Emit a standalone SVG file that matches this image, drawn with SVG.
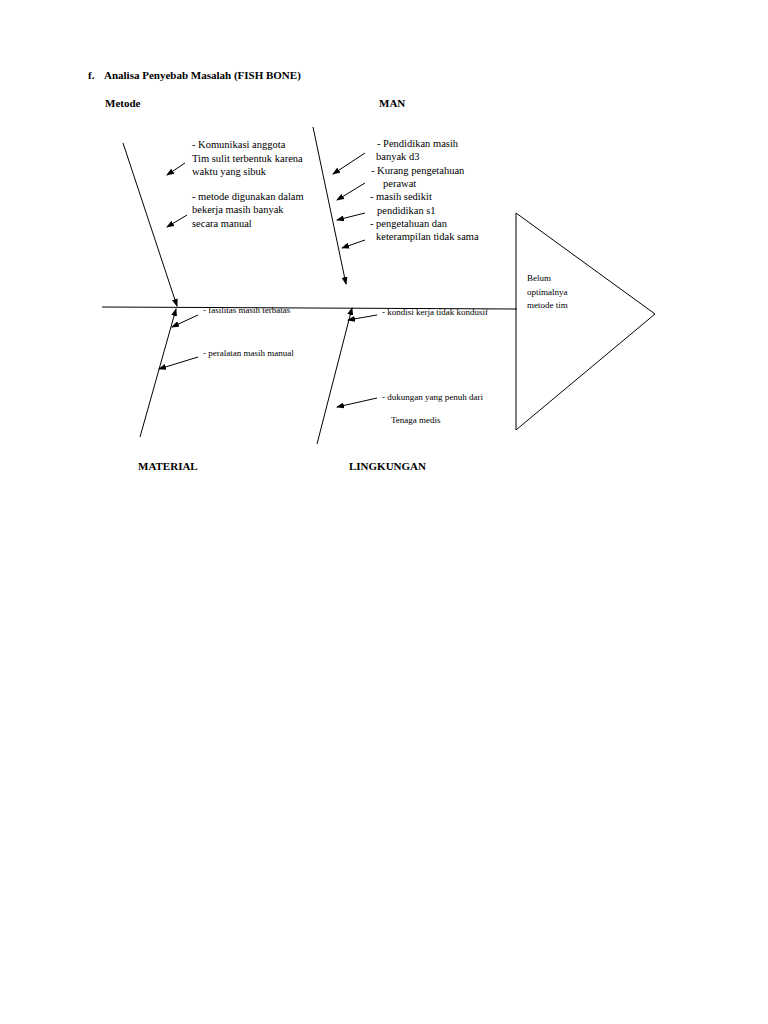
<svg xmlns="http://www.w3.org/2000/svg" width="768" height="1024" viewBox="0 0 768 1024">
<style>
text{font-family:"Liberation Serif",serif;fill:#000}
.h{font-size:11px;font-weight:bold}
.t{font-size:10.5px}
.s{font-size:9px}
line{stroke:#000;stroke-width:1}
</style>
<defs><marker id="a" markerWidth="8" markerHeight="6" refX="7" refY="3" orient="auto" markerUnits="userSpaceOnUse"><path d="M0,0L8,3L0,6z" fill="#000"/></marker></defs>
<rect width="768" height="1024" fill="#fff"/>
<text class="h" x="88" y="79">f.</text>
<text class="h" x="104" y="79">Analisa Penyebab Masalah (FISH BONE)</text>
<g id="labels">
<text class="h" x="105" y="107">Metode</text>
<text class="h" x="379" y="107">MAN</text>
<text class="h" x="138" y="470">MATERIAL</text>
<text class="h" x="349" y="470">LINGKUNGAN</text>
</g>
<g id="connectors">
<line x1="102" y1="307" x2="517" y2="309"/>
<line x1="123" y1="143" x2="177" y2="306" marker-end="url(#a)"/>
<line x1="313" y1="127" x2="346" y2="284" marker-end="url(#a)"/>
<line x1="140" y1="437" x2="176" y2="309" marker-end="url(#a)"/>
<line x1="317" y1="444" x2="352" y2="308" marker-end="url(#a)"/>
<line x1="185" y1="163" x2="167" y2="175" marker-end="url(#a)"/>
<line x1="187" y1="215" x2="167" y2="227" marker-end="url(#a)"/>
<line x1="365" y1="153" x2="333" y2="174" marker-end="url(#a)"/>
<line x1="365" y1="183" x2="337" y2="200" marker-end="url(#a)"/>
<line x1="365" y1="213" x2="337" y2="220" marker-end="url(#a)"/>
<line x1="365" y1="240" x2="342" y2="248" marker-end="url(#a)"/>
<line x1="198" y1="315" x2="172" y2="327" marker-end="url(#a)"/>
<line x1="198" y1="357" x2="159" y2="369" marker-end="url(#a)"/>
<line x1="377" y1="315" x2="348" y2="320" marker-end="url(#a)"/>
<line x1="377" y1="398" x2="337" y2="407" marker-end="url(#a)"/>
</g>
<g id="causes">
<text class="t" x="192" y="148">- Komunikasi anggota</text>
<text class="t" x="192" y="162">Tim sulit terbentuk karena</text>
<text class="t" x="192" y="175">waktu yang sibuk</text>
<text class="t" x="192" y="200">- metode digunakan dalam</text>
<text class="t" x="192" y="213">bekerja masih banyak</text>
<text class="t" x="192" y="227">secara  manual</text>
<text class="t" x="377" y="147">- Pendidikan masih</text>
<text class="t" x="376" y="160">banyak d3</text>
<text class="t" x="371" y="174">- Kurang pengetahuan</text>
<text class="t" x="383" y="187">perawat</text>
<text class="t" x="370" y="200">- masih sedikit</text>
<text class="t" x="377" y="214">pendidikan s1</text>
<text class="t" x="370" y="227">- pengetahuan dan</text>
<text class="t" x="376" y="240">keterampilan tidak sama</text>
<text class="s" x="203" y="313">- fasilitas masih terbatas</text>
<text class="s" x="203" y="356">- peralatan masih manual</text>
<text class="s" x="382" y="315">- kondisi kerja tidak kondusif</text>
<text class="s" x="382" y="400">-  dukungan  yang penuh dari</text>
<text class="s" x="391" y="423">Tenaga medis</text>
</g>
<g id="head">
<polygon points="516,213 516,430 655,314" fill="none" stroke="#000"/>
<text class="s" x="527" y="281">Belum</text>
<text class="s" x="527" y="295">optimalnya</text>
<text class="s" x="527" y="308">metode tim</text>
</g>
</svg>
